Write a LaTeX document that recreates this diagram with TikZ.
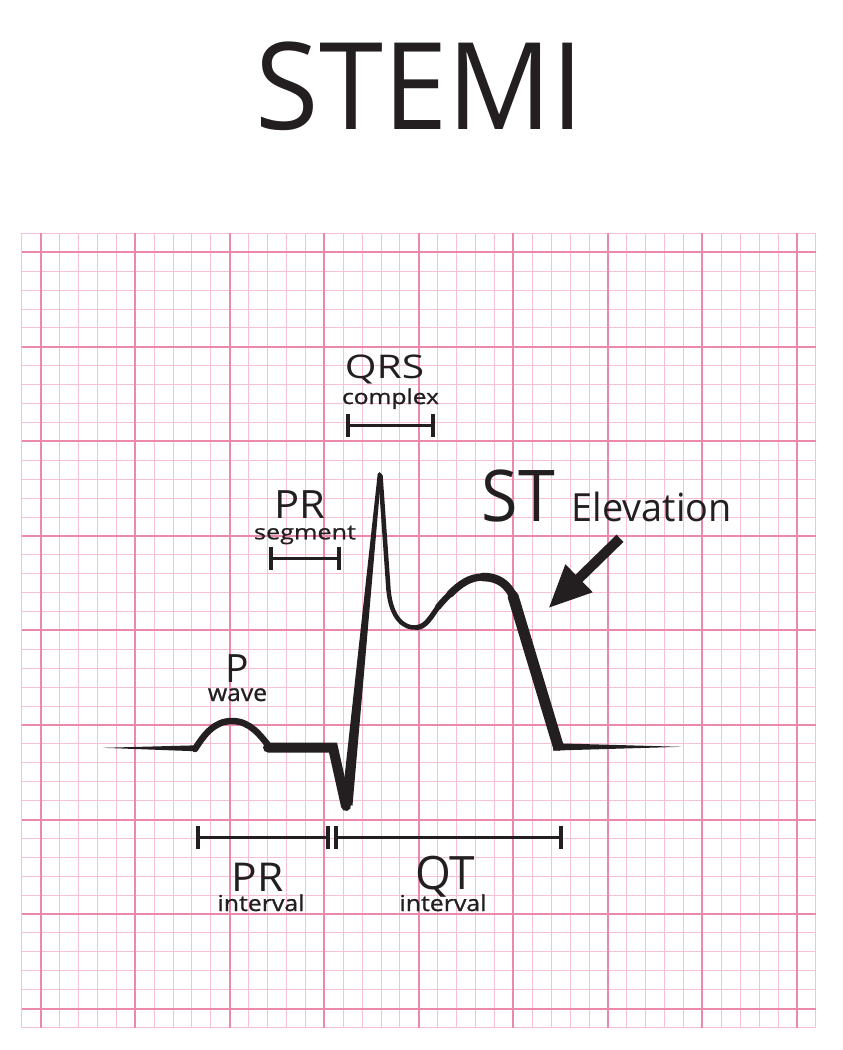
\documentclass[tikz,border=0pt]{standalone}
\usepackage{fontspec}
\setmainfont{Open Sans}
\newfontfamily\smallfont[FakeBold=0.9]{Open Sans}
\usetikzlibrary{arrows.meta}
\definecolor{ink}{HTML}{231F20}
\definecolor{gridmajor}{HTML}{EC88AA}
\definecolor{gridminor}{HTML}{F7C0D3}
\tikzset{
  minorline/.style={gridminor, line width=1},
  majorline/.style={gridmajor, line width=2},
  trace/.style={ink, line join=round, line cap=round},
  bracketline/.style={ink, line width=3.3},
  tickline/.style={ink, line width=3.8},
  lbl/.style={ink, inner sep=0, anchor=base},
  arrowline/.style={ink, line width=10, -{Triangle[length=43pt,width=36pt]}},
}
\newcommand{\fs}[1]{\fontsize{#1}{#1}\selectfont}
\newcommand{\sx}[2]{\scalebox{#1}[1]{#2}}
\begin{document}
\begin{tikzpicture}[x=1pt,y=-1pt]
\useasboundingbox (0,0) rectangle (843,1050);
\fill[white] (0,0) rectangle (843,1050);
% grid
\foreach \i in {0,...,42} {
  \draw[minorline] ({21.8+\i*18.907},233.4) -- ({21.8+\i*18.907},1027.5);
  \draw[minorline] (21.8,{233.4+\i*18.907}) -- (815.9,{233.4+\i*18.907});
}
\foreach \i in {1,6,...,41} {
  \draw[majorline] ({21.8+\i*18.907},233.4) -- ({21.8+\i*18.907},1027.5);
  \draw[majorline] (21.8,{233.4+\i*18.907}) -- (815.9,{233.4+\i*18.907});
}
% title
\node[lbl, font=\fs{121}] (title) at (420,129.3) {\sx{0.955}{STEMI}};
% ECG trace
\fill[ink] (103,747.8) -- (197,745.3) -- (197,751.3) -- cycle;
\draw[trace, line width=6.5] (195,749) .. controls (204,735) and (214,721) .. (232,721) .. controls (250,721) and (260,735) .. (270,747.5);
\draw[ink, line width=10, line join=miter, line cap=round] (268,747.5) -- (333,747.5) -- (346,806);
\fill[ink] (341.5,804.5) -- (377.7,473.8) -- (381.3,474.2) -- (352.5,805.5) -- cycle;
\fill[ink] (379.5,474) circle (1.8);
\draw[trace, line width=4.5] (380.5,476) -- (388.5,590) .. controls (391,618) and (404,629) .. (417,627.5);
\draw[trace, line width=5.2] (417,627.5) .. controls (426,626.5) and (431,617) .. (438,607);
\draw[trace, line width=6.2] (438,607) .. controls (442,602) and (445,599) .. (450,594);
\draw[trace, line width=7.4] (450,594) .. controls (460,584) and (470,577) .. (483,577);
\draw[trace, line width=8.6] (483,577) .. controls (498,577) and (508,584) .. (514,598);
\draw[trace, line width=11] (513,596) -- (558,745.5);
\fill[ink] (553,743.2) -- (681,746.8) -- (553,750.6) -- cycle;
% labels
\node[lbl, font=\fs{32.6}] (qrs) at (384.5,378.3) {\sx{1.25}{QRS}};
\node[lbl, font=\fs{20.5}\smallfont] (complex) at (390.5,404) {\sx{1.2}{complex}};
\node[lbl, font=\fs{39}] (prs) at (299.7,518.3) {\sx{1.07}{PR}};
\node[lbl, font=\fs{20.5}\smallfont] (segment) at (305,539.3) {\sx{1.23}{segment}};
\node[lbl, font=\fs{39}] (p) at (237.5,682.7) {P};
\node[lbl, font=\fs{23.5}\smallfont] (wave) at (237.5,701) {\sx{1.05}{wave}};
\node[lbl, font=\fs{71.4}] (st) at (518.3,521) {\sx{0.93}{ST}};
\node[lbl, font=\fs{38.8}, anchor=base west] (elev) at (571.7,521) {\sx{0.975}{Elevation}};
\node[lbl, font=\fs{39.7}] (pri) at (257.5,891.7) {\sx{1.07}{PR}};
\node[lbl, font=\fs{22}\smallfont] (printerval) at (261,911) {\sx{1.13}{interval}};
\node[lbl, font=\fs{46}] (qt) at (445,889.3) {QT};
\node[lbl, font=\fs{22}\smallfont] (qtinterval) at (443,911) {\sx{1.13}{interval}};
% arrow
\coordinate (arrowStart) at (620,538.3);
\coordinate (arrowTip) at (548.3,608.3);
\draw[arrowline] (arrowStart) -- (arrowTip);
% brackets
\coordinate (qrsL) at (347.7,425.7);
\coordinate (qrsR) at (432.7,425.7);
\coordinate (prsL) at (271,558.3);
\coordinate (prsR) at (339,558.3);
\coordinate (priL) at (198.3,837.7);
\coordinate (priR) at (328.3,837.7);
\coordinate (qtL) at (335.7,837.7);
\coordinate (qtR) at (561,837.7);
\draw[bracketline] (qrsL) -- (qrsR);
\draw[tickline] (qrsL) ++(0,-11.7) -- ++(0,23.4);
\draw[tickline] (qrsR) ++(0,-11.7) -- ++(0,23.4);
\draw[bracketline] (prsL) -- (prsR);
\draw[tickline] (prsL) ++(0,-11.7) -- ++(0,23.4);
\draw[tickline] (prsR) ++(0,-11.7) -- ++(0,23.4);
\draw[bracketline] (priL) -- (priR);
\draw[tickline] (priL) ++(0,-11.7) -- ++(0,23.4);
\draw[tickline] (priR) ++(0,-11.7) -- ++(0,23.4);
\draw[bracketline] (qtL) -- (qtR);
\draw[tickline] (qtL) ++(0,-11.7) -- ++(0,23.4);
\draw[tickline] (qtR) ++(0,-11.7) -- ++(0,23.4);
\end{tikzpicture}
\end{document}
